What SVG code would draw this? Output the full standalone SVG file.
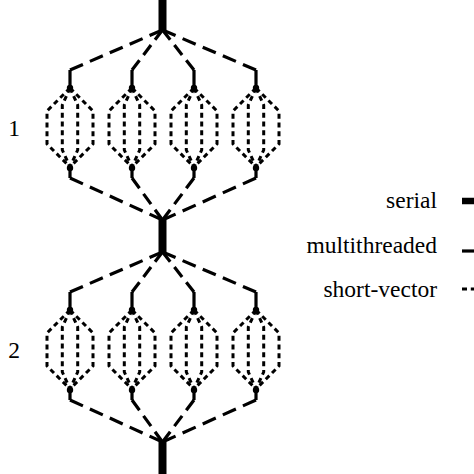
<svg xmlns="http://www.w3.org/2000/svg" xmlns:xlink="http://www.w3.org/1999/xlink" width="474" height="474" viewBox="0 0 474 474">
<style>
.serial{stroke:#000;stroke-width:8;fill:none}
.mt{stroke:#000;stroke-width:3.2;fill:none;stroke-dasharray:13 7}
.solid{stroke:#000;stroke-width:3.2;fill:none}
.sv{stroke:#000;stroke-width:3;fill:none;stroke-dasharray:5 3.8}
.lbl{font-family:"Liberation Serif","Times New Roman",serif;font-size:23.5px;fill:#000}
</style>
<defs>
<g id="lane">
<path class="sv" d="M0,0 L-23,23 L-23,56 L0,79"/>
<path class="sv" d="M0,0 L23,23 L23,56 L0,79"/>
<path class="sv" d="M0,0 L-7.7,17 L-7.7,62 L0,79"/>
<path class="sv" d="M0,0 L7.7,17 L7.7,62 L0,79"/>
<circle cx="0" cy="0" r="3.2" fill="#000"/>
<circle cx="0" cy="80" r="3.2" fill="#000"/>
</g>
<g id="section">
<path class="solid" d="M70,70 V88 M132,70 V88 M194,70 V88 M256,70 V88"/>
<path class="solid" d="M70,168 V178 M132,168 V178 M194,168 V178 M256,168 V178"/>
<path class="mt" pathLength="93" d="M70,70 L162.5,30"/>
<path class="mt" pathLength="53" d="M132,70 L162.5,30"/>
<path class="mt" pathLength="53" d="M194,70 L162.5,30"/>
<path class="mt" pathLength="93" d="M256,70 L162.5,30"/>
<path class="mt" pathLength="93" d="M70,178 L162.5,220"/>
<path class="mt" pathLength="53" d="M132,178 L162.5,220"/>
<path class="mt" pathLength="53" d="M194,178 L162.5,220"/>
<path class="mt" pathLength="93" d="M256,178 L162.5,220"/>
</g>
</defs>
<g id="connectors">
<use xlink:href="#section" href="#section"/>
<use xlink:href="#section" href="#section" transform="translate(0,222)"/>
</g>
<g id="serial-top"><line class="serial" x1="162.5" y1="0" x2="162.5" y2="30"/></g>
<g id="serial-mid"><line class="serial" x1="162.5" y1="220" x2="162.5" y2="252"/></g>
<g id="serial-bottom"><line class="serial" x1="162.5" y1="442" x2="162.5" y2="474"/></g>
<g id="lane-1-1"><use href="#lane" xlink:href="#lane" transform="translate(70,88)"/></g>
<g id="lane-1-2"><use href="#lane" xlink:href="#lane" transform="translate(132,88)"/></g>
<g id="lane-1-3"><use href="#lane" xlink:href="#lane" transform="translate(194,88)"/></g>
<g id="lane-1-4"><use href="#lane" xlink:href="#lane" transform="translate(256,88)"/></g>
<g id="lane-2-1"><use href="#lane" xlink:href="#lane" transform="translate(70,310)"/></g>
<g id="lane-2-2"><use href="#lane" xlink:href="#lane" transform="translate(132,310)"/></g>
<g id="lane-2-3"><use href="#lane" xlink:href="#lane" transform="translate(194,310)"/></g>
<g id="lane-2-4"><use href="#lane" xlink:href="#lane" transform="translate(256,310)"/></g>
<g id="label-1"><text class="lbl" x="14" y="136" text-anchor="middle">1</text></g>
<g id="label-2"><text class="lbl" x="14" y="358" text-anchor="middle">2</text></g>
<g id="legend">
<text class="lbl" x="437" y="208" text-anchor="end">serial</text>
<text class="lbl" x="437" y="253" text-anchor="end">multithreaded</text>
<text class="lbl" x="437" y="297" text-anchor="end">short-vector</text>
<line x1="462" y1="201" x2="474" y2="201" stroke="#000" stroke-width="6.5"/>
<line x1="462" y1="251" x2="474" y2="251" stroke="#000" stroke-width="3.2"/>
<line x1="462" y1="289" x2="474" y2="289" stroke="#000" stroke-width="3" stroke-dasharray="5 3.8"/>
</g>
</svg>
